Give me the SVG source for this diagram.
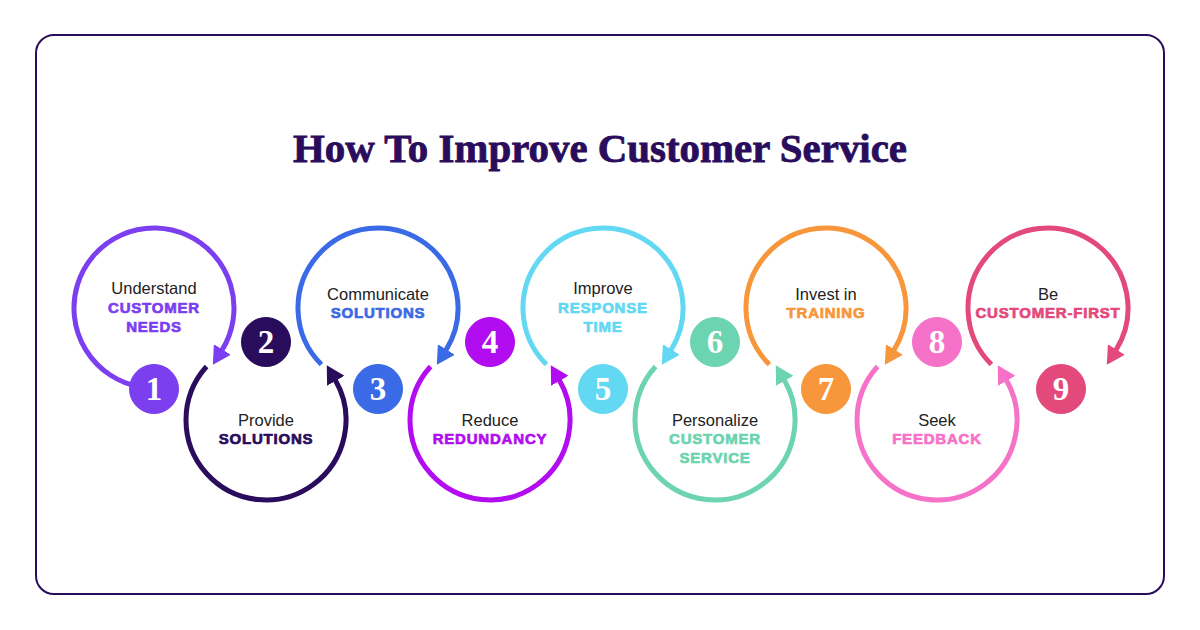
<svg xmlns="http://www.w3.org/2000/svg" width="1200" height="630" viewBox="0 0 1200 630">
<style>
.frame{fill:#ffffff;stroke:#2a0c5c;stroke-width:2}
.title{font-family:"Liberation Serif","DejaVu Serif",serif;font-weight:bold;font-size:40px;fill:#2a0c5c;stroke:#2a0c5c;stroke-width:0.8px}
.arc{fill:none;stroke-width:5}
.lbl{font-family:"Liberation Sans","DejaVu Sans",sans-serif;font-size:16.5px;fill:#222222;text-anchor:middle}
.bold{font-family:"Liberation Sans","DejaVu Sans",sans-serif;font-size:15px;font-weight:bold;letter-spacing:0.8px;text-anchor:middle;stroke-width:0.7px}
.num{font-family:"Liberation Serif","DejaVu Serif",serif;font-weight:bold;font-size:33px;fill:#ffffff;text-anchor:middle}
.c1{fill:#7b3ff0;stroke:#7b3ff0}
.c2{fill:#2a0c5c;stroke:#2a0c5c}
.c3{fill:#3a6ae6;stroke:#3a6ae6}
.c4{fill:#b20cf0;stroke:#b20cf0}
.c5{fill:#62d8f2;stroke:#62d8f2}
.c6{fill:#6cd4b0;stroke:#6cd4b0}
.c7{fill:#f7963a;stroke:#f7963a}
.c8{fill:#f672c8;stroke:#f672c8}
.c9{fill:#e4497c;stroke:#e4497c}
</style>
<defs>
<marker id="m1" markerUnits="userSpaceOnUse" markerWidth="20" markerHeight="20" viewBox="0 0 20 20" refX="1" refY="10" orient="auto"><path d="M0,0 L18,10 L0,20 Z" fill="#7b3ff0"/></marker>
<marker id="m2" markerUnits="userSpaceOnUse" markerWidth="20" markerHeight="20" viewBox="0 0 20 20" refX="1" refY="10" orient="auto"><path d="M0,0 L18,10 L0,20 Z" fill="#2a0c5c"/></marker>
<marker id="m3" markerUnits="userSpaceOnUse" markerWidth="20" markerHeight="20" viewBox="0 0 20 20" refX="1" refY="10" orient="auto"><path d="M0,0 L18,10 L0,20 Z" fill="#3a6ae6"/></marker>
<marker id="m4" markerUnits="userSpaceOnUse" markerWidth="20" markerHeight="20" viewBox="0 0 20 20" refX="1" refY="10" orient="auto"><path d="M0,0 L18,10 L0,20 Z" fill="#b20cf0"/></marker>
<marker id="m5" markerUnits="userSpaceOnUse" markerWidth="20" markerHeight="20" viewBox="0 0 20 20" refX="1" refY="10" orient="auto"><path d="M0,0 L18,10 L0,20 Z" fill="#62d8f2"/></marker>
<marker id="m6" markerUnits="userSpaceOnUse" markerWidth="20" markerHeight="20" viewBox="0 0 20 20" refX="1" refY="10" orient="auto"><path d="M0,0 L18,10 L0,20 Z" fill="#6cd4b0"/></marker>
<marker id="m7" markerUnits="userSpaceOnUse" markerWidth="20" markerHeight="20" viewBox="0 0 20 20" refX="1" refY="10" orient="auto"><path d="M0,0 L18,10 L0,20 Z" fill="#f7963a"/></marker>
<marker id="m8" markerUnits="userSpaceOnUse" markerWidth="20" markerHeight="20" viewBox="0 0 20 20" refX="1" refY="10" orient="auto"><path d="M0,0 L18,10 L0,20 Z" fill="#f672c8"/></marker>
<marker id="m9" markerUnits="userSpaceOnUse" markerWidth="20" markerHeight="20" viewBox="0 0 20 20" refX="1" refY="10" orient="auto"><path d="M0,0 L18,10 L0,20 Z" fill="#e4497c"/></marker>
</defs>
<rect x="0" y="0" width="1200" height="630" fill="#ffffff"/>
<rect class="frame" x="36" y="35" width="1128" height="559" rx="18" ry="18"/>
<text class="title" x="600" y="162" text-anchor="middle" textLength="614" lengthAdjust="spacingAndGlyphs">How To Improve Customer Service</text>

<g id="connectors">
<path class="arc" stroke="#7b3ff0" marker-end="url(#m1)" d="M140.1,386.8 A80,80 0 1 1 221.84,350.39"/>
<path class="arc" stroke="#2a0c5c" marker-end="url(#m2)" d="M206.55,366.47 A80,80 0 1 0 335.28,380"/>
<path class="arc" stroke="#3a6ae6" marker-end="url(#m3)" d="M321.43,364.57 A80,80 0 1 1 445.84,350.39"/>
<path class="arc" stroke="#b20cf0" marker-end="url(#m4)" d="M430.55,366.47 A80,80 0 1 0 559.28,380"/>
<path class="arc" stroke="#62d8f2" marker-end="url(#m5)" d="M546.43,364.57 A80,80 0 1 1 670.84,350.39"/>
<path class="arc" stroke="#6cd4b0" marker-end="url(#m6)" d="M655.55,366.47 A80,80 0 1 0 784.28,380"/>
<path class="arc" stroke="#f7963a" marker-end="url(#m7)" d="M769.43,364.57 A80,80 0 1 1 893.84,350.39"/>
<path class="arc" stroke="#f672c8" marker-end="url(#m8)" d="M877.55,366.47 A80,80 0 1 0 1006.28,380"/>
<path class="arc" stroke="#e4497c" marker-end="url(#m9)" d="M991.43,364.57 A80,80 0 1 1 1115.84,350.39"/>
</g>

<g id="step1">
<text class="lbl" x="154" y="294">Understand</text>
<text class="bold c1" x="154" y="313">CUSTOMER</text>
<text class="bold c1" x="154" y="332">NEEDS</text>
<circle class="c1" cx="154" cy="389" r="24.5" stroke="none"/>
<text class="num" x="154" y="400">1</text>
</g>
<g id="step2">
<text class="lbl" x="266" y="426">Provide</text>
<text class="bold c2" x="266" y="444">SOLUTIONS</text>
<circle class="c2" cx="266" cy="342" r="24.5" stroke="none"/>
<text class="num" x="266" y="353">2</text>
</g>
<g id="step3">
<text class="lbl" x="378" y="300">Communicate</text>
<text class="bold c3" x="378" y="318">SOLUTIONS</text>
<circle class="c3" cx="378" cy="389" r="24.5" stroke="none"/>
<text class="num" x="378" y="400">3</text>
</g>
<g id="step4">
<text class="lbl" x="490" y="426">Reduce</text>
<text class="bold c4" x="490" y="444">REDUNDANCY</text>
<circle class="c4" cx="490" cy="342" r="24.5" stroke="none"/>
<text class="num" x="490" y="353">4</text>
</g>
<g id="step5">
<text class="lbl" x="603" y="294">Improve</text>
<text class="bold c5" x="603" y="313">RESPONSE</text>
<text class="bold c5" x="603" y="332">TIME</text>
<circle class="c5" cx="603" cy="389" r="24.5" stroke="none"/>
<text class="num" x="603" y="400">5</text>
</g>
<g id="step6">
<text class="lbl" x="715" y="426">Personalize</text>
<text class="bold c6" x="715" y="444">CUSTOMER</text>
<text class="bold c6" x="715" y="463">SERVICE</text>
<circle class="c6" cx="715" cy="342" r="24.5" stroke="none"/>
<text class="num" x="715" y="353">6</text>
</g>
<g id="step7">
<text class="lbl" x="826" y="300">Invest in</text>
<text class="bold c7" x="826" y="318">TRAINING</text>
<circle class="c7" cx="826" cy="389" r="24.5" stroke="none"/>
<text class="num" x="826" y="400">7</text>
</g>
<g id="step8">
<text class="lbl" x="937" y="426">Seek</text>
<text class="bold c8" x="937" y="444">FEEDBACK</text>
<circle class="c8" cx="937" cy="342" r="24.5" stroke="none"/>
<text class="num" x="937" y="353">8</text>
</g>
<g id="step9">
<text class="lbl" x="1048" y="300">Be</text>
<text class="bold c9" x="1048" y="318">CUSTOMER-FIRST</text>
<circle class="c9" cx="1061" cy="389" r="24.5" stroke="none"/>
<text class="num" x="1061" y="400">9</text>
</g>
</svg>
